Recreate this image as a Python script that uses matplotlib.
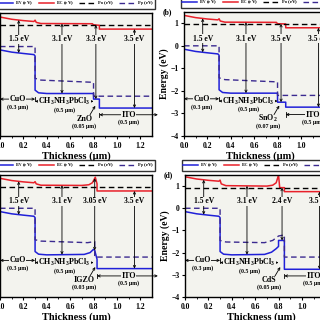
import matplotlib
matplotlib.use('Agg')
import matplotlib.pyplot as plt
import numpy as np

plt.rcParams['font.family'] = ['Liberation Serif', 'DejaVu Serif']
plt.rcParams['font.weight'] = 'bold'
plt.rcParams['mathtext.fontset'] = 'custom'
plt.rcParams['mathtext.rm'] = 'Liberation Serif:bold'
plt.rcParams['mathtext.it'] = 'Liberation Serif:italic:bold'
plt.rcParams['mathtext.bf'] = 'Liberation Serif:bold'

# --- band data (x in um, energy in eV) ---
# (a) CuO / CH3NH3PbCl3 / ZnO / ITO
A_EC_X = [0, 0.1, 0.2, 0.29, 0.3, 0.31, 0.35, 0.79, 0.8, 0.85, 0.85, 1.35]
A_EC_Y = [1.32, 1.22, 1.16, 1.12, 1.18, 1.08, 1.03, 1.02, 0.97, 0.95, 0.78, 0.78]
A_EV_X = [0, 0.1, 0.2, 0.29, 0.3, 0.3, 0.33, 0.4, 0.8, 0.8, 0.85, 0.85, 1.35]
A_EV_Y = [-0.15, -0.25, -0.31, -0.36, -0.42, -1.95, -2.07, -2.1, -2.1, -2.35, -2.35, -2.75, -2.75]
A_FP_X = [0, 0.3, 0.3, 0.35, 0.8, 0.8, 1.35]
A_FP_Y = [0, 0, -1.42, -1.5, -1.6, -2.22, -2.22]
A_FN = 0.95
A_GAP_X = [0.16, 0.53, 0.82, 1.15]
A_GAP_LBL = ['1.5 eV', '3.1 eV', '3.3 eV', '3.5 eV']
A_ETL = ['ZnO', '(0.05 µm)']

# (b) SnO2
B_EC_X = [0, 0.1, 0.2, 0.29, 0.3, 0.31, 0.35, 0.79, 0.8, 0.87, 0.87, 1.35]
B_EC_Y = [1.35, 1.25, 1.19, 1.15, 1.2, 1.1, 1.05, 1.04, 0.98, 0.97, 0.8, 0.8]
B_EV_X = [0, 0.1, 0.2, 0.29, 0.3, 0.3, 0.33, 0.4, 0.8, 0.8, 0.87, 0.87, 1.35]
B_EV_Y = [-0.15, -0.25, -0.31, -0.36, -0.42, -1.95, -2.07, -2.1, -2.1, -2.5, -2.5, -2.72, -2.72]
B_FP_X = [0, 0.3, 0.3, 0.35, 0.8, 0.8, 1.35]
B_FP_Y = [0, 0, -1.42, -1.5, -1.6, -2.2, -2.2]
B_FN = 0.95
B_GAP_X = [0.16, 0.53, 0.83, 1.15]
B_GAP_LBL = ['1.5 eV', '3.1 eV', '3.5 eV', '3.5 eV']
B_ETL = ['$\\mathregular{SnO_2}$', '(0.07 µm)']

# (c) IGZO
C_EC_X = [0, 0.1, 0.2, 0.29, 0.3, 0.31, 0.35, 0.7, 0.76, 0.79, 0.815, 0.83, 0.83, 1.35]
C_EC_Y = [1.35, 1.25, 1.19, 1.15, 1.2, 1.1, 1.04, 1.03, 1.06, 1.15, 1.4, 1.1, 0.78, 0.78]
C_EV_X = [0, 0.1, 0.2, 0.29, 0.3, 0.3, 0.33, 0.4, 0.72, 0.77, 0.8, 0.81, 0.83, 0.83, 1.35]
C_EV_Y = [-0.15, -0.25, -0.31, -0.36, -0.42, -1.95, -2.07, -2.1, -2.08, -2.0, -1.85, -1.9, -2.3, -2.72, -2.72]
C_FP_X = [0, 0.3, 0.3, 0.35, 0.75, 0.81, 0.81, 1.35]
C_FP_Y = [0, 0, -1.42, -1.48, -1.55, -1.5, -2.2, -2.2]
C_FN = 0.95
C_GAP_X = [0.16, 0.53, 0.81, 1.15]
C_GAP_LBL = ['1.5 eV', '3.1 eV', '3.05 eV', '3.5 eV']
C_ETL = ['IGZO', '(0.03 µm)']

# (d) CdS
D_EC_X = [0, 0.1, 0.2, 0.29, 0.3, 0.31, 0.35, 0.7, 0.75, 0.78, 0.8, 0.81, 0.85, 0.85, 1.35]
D_EC_Y = [1.42, 1.32, 1.26, 1.22, 1.27, 1.1, 1.02, 1.0, 1.04, 1.15, 1.5, 0.93, 0.93, 0.75, 0.75]
D_EV_X = [0, 0.1, 0.2, 0.29, 0.3, 0.3, 0.33, 0.4, 0.68, 0.74, 0.78, 0.8, 0.8, 0.85, 0.85, 1.35]
D_EV_Y = [-0.15, -0.25, -0.31, -0.36, -0.42, -1.95, -2.07, -2.1, -2.08, -1.98, -1.82, -1.72, -1.45, -1.45, -2.75, -2.75]
D_FP_X = [0, 0.3, 0.3, 0.35, 0.68, 0.75, 0.8, 0.85, 0.85, 1.35]
D_FP_Y = [0, 0, -1.45, -1.52, -1.55, -1.45, -1.25, -1.2, -2.2, -2.2]
D_FN = 0.92
D_GAP_X = [0.16, 0.53, 0.83, 1.15]
D_GAP_LBL = ['1.5 eV', '3.1 eV', '2.4 eV', '3.5 eV']
D_ETL = ['CdS', '(0.05 µm)']

LEG_LABELS = ['$\\mathregular{E_V}$ (eV)', '$\\mathregular{E_C}$ (eV)',
              '$\\mathregular{F_n}$ (eV)', '$\\mathregular{F_p}$ (eV)']

BG = '#f3f3ee'
C_EV = '#2020d8'
C_EC = '#e8202a'
C_FP = '#3b2a90'

W, H = 320, 320
fig = plt.figure(figsize=(3.2, 3.2), dpi=100)


def add_ax(left, top, right, bottom):
    return fig.add_axes([left / W, 1 - bottom / H, (right - left) / W, (bottom - top) / H])


def panel(ax, ecx, ecy, evx, evy, fpx, fpy, fn, gapx, gaplbl, etl, tag, etl_end):
    ax.set_facecolor(BG)
    ax.plot(evx, evy, color=C_EV, lw=1.1, label=LEG_LABELS[0])
    ax.plot(ecx, ecy, color=C_EC, lw=1.1, label=LEG_LABELS[1])
    ax.plot([0, 1.35], [fn, fn], color='k', lw=1.0, ls=(0, (4, 2.5)), label=LEG_LABELS[2])
    ax.plot(fpx, fpy, color=C_FP, lw=1.0, ls=(0, (4, 2.5)), label=LEG_LABELS[3])
    ax.set_xlim(0, 1.3)
    ax.set_ylim(-4, 1.5)
    ax.set_xticks(np.arange(0, 1.21, 0.2))
    ax.set_xticks(np.arange(0.1, 1.3, 0.2), minor=True)
    ax.set_yticks(range(-4, 2))
    ax.tick_params(labelsize=5.5, length=2.5, width=0.8, pad=1.5)
    ax.tick_params(which='minor', length=1.5, width=0.6)
    for s in ax.spines.values():
        s.set_linewidth(1.0)
    ax.set_xlabel('Thickness (µm)', fontsize=7.5, fontweight='bold', labelpad=1)
    if tag is not None:
        ax.set_ylabel('Energy (eV)', fontsize=7, fontweight='bold', labelpad=1)
        ax.text(-0.1, 1.5, tag, fontsize=5.5, ha='right', va='center', clip_on=False)

    # band gap arrows
    for x, lbl in zip(gapx, gaplbl):
        top = np.interp(x, ecx, ecy)
        bot = np.interp(x, evx, evy)
        ax.annotate('', xy=(x, bot), xytext=(x, top),
                    arrowprops=dict(arrowstyle='<->', lw=0.6, color='k',
                                    mutation_scale=4, shrinkA=0, shrinkB=0))
        ax.text(x, 0.32, lbl, fontsize=5.5, ha='center', va='center',
                bbox=dict(facecolor=BG, edgecolor='none', pad=0.3))

    # layer labels
    arr = dict(arrowstyle='<->', lw=0.6, color='k', mutation_scale=4, shrinkA=0, shrinkB=0)
    ax.annotate('', xy=(0, -2.35), xytext=(0.3, -2.35), arrowprops=arr)
    ax.plot([0.3, 0.3], [-2.25, -2.45], color='k', lw=0.6)
    ax.text(0.15, -2.35, 'CuO', fontsize=5.8, ha='center', va='center',
            bbox=dict(facecolor=BG, edgecolor='none', pad=0.3))
    ax.text(0.15, -2.72, '(0.3 µm)', fontsize=4.2, ha='center', va='center')
    ax.annotate('', xy=(0.3, -2.45), xytext=(0.8, -2.45), arrowprops=arr)
    ax.text(0.55, -2.45, '$\\mathregular{CH_3NH_3PbCl_3}$', fontsize=5.8, ha='center', va='center',
            bbox=dict(facecolor=BG, edgecolor='none', pad=0.3))
    ax.text(0.55, -2.82, '(0.5 µm)', fontsize=4.2, ha='center', va='center')
    ax.annotate('', xy=(etl_end, -3.05), xytext=(1.35, -3.05), arrowprops=arr)
    ax.plot([etl_end, etl_end], [-2.95, -3.15], color='k', lw=0.6)
    ax.text(1.1, -3.05, 'ITO', fontsize=5.8, ha='center', va='center',
            bbox=dict(facecolor=BG, edgecolor='none', pad=0.3))
    ax.text(1.1, -3.38, '(0.5 µm)', fontsize=4.2, ha='center', va='center')
    ax.text(0.72, -3.22, etl[0], fontsize=5.8, ha='center', va='center')
    ax.text(0.72, -3.56, etl[1], fontsize=4.2, ha='center', va='center')
    ax.annotate('', xy=(0.815, -2.65), xytext=(0.77, -3.05),
                arrowprops=dict(arrowstyle='->', lw=0.6, color='k', mutation_scale=4,
                                shrinkA=0, shrinkB=0))

    leg = ax.legend(loc='lower center', bbox_to_anchor=(0.5, 1.03), ncol=4, fontsize=3.6,
                    frameon=True, fancybox=False, edgecolor='k', handlelength=3.0,
                    columnspacing=1.0, handletextpad=0.5, borderpad=0.25, borderaxespad=0)
    leg.get_frame().set_linewidth(1.0)


ax_a = add_ax(0, 13, 152, 136)
ax_b = add_ax(184, 12, 336, 136)
ax_c = add_ax(0, 175, 152, 297)
ax_d = add_ax(185, 175, 337, 297)

panel(ax_a, A_EC_X, A_EC_Y, A_EV_X, A_EV_Y, A_FP_X, A_FP_Y, A_FN, A_GAP_X, A_GAP_LBL, A_ETL, None, 0.85)
panel(ax_b, B_EC_X, B_EC_Y, B_EV_X, B_EV_Y, B_FP_X, B_FP_Y, B_FN, B_GAP_X, B_GAP_LBL, B_ETL, '(b)', 0.87)
panel(ax_c, C_EC_X, C_EC_Y, C_EV_X, C_EV_Y, C_FP_X, C_FP_Y, C_FN, C_GAP_X, C_GAP_LBL, C_ETL, None, 0.83)
panel(ax_d, D_EC_X, D_EC_Y, D_EV_X, D_EV_Y, D_FP_X, D_FP_Y, D_FN, D_GAP_X, D_GAP_LBL, D_ETL, '(d)', 0.85)

fig.savefig('out.png', dpi=100)
